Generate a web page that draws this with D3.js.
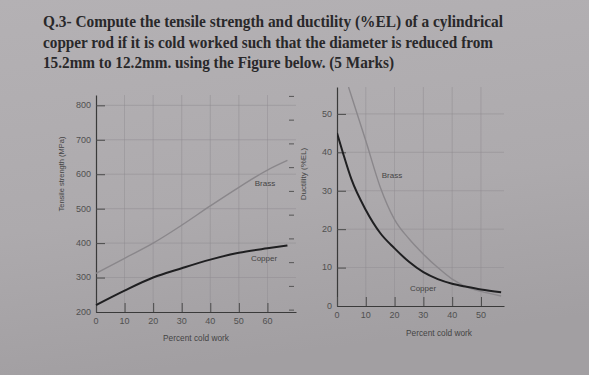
<!DOCTYPE html>
<html>
<head>
<meta charset="utf-8">
<script src="https://cdn.jsdelivr.net/npm/d3@7"></script>
<style>
  html, body { margin: 0; padding: 0; background: #aeabae; }
  svg { display: block; }
  .lbl { font-family: "Liberation Sans", Arial, sans-serif; font-size: 8px; fill: #444; }
  .num { font-family: "Liberation Sans", Arial, sans-serif; font-size: 9px; fill: #505050; }
</style>
</head>
<body>
<div id="chart"></div>
<script>
// question text
const titleLines = [
  "Q.3- Compute the tensile strength and ductility  (%EL) of a cylindrical",
  "copper rod if it is cold worked such that the diameter is reduced from",
  "15.2mm to 12.2mm. using the Figure below. (5 Marks)"
];

// tensile strength vs percent cold work (MPa)
const cwStrength = [0, 10, 20, 30, 40, 50, 60, 67];
const copperTS = [220, 262, 300, 327, 352, 372, 385, 393];
const brassTS = [312, 356, 400, 452, 508, 562, 612, 640];
const tsTicks = [200, 300, 400, 500, 600, 700, 800];
const ksiTicks = [30, 40, 50, 60, 70, 80, 90, 100, 110, 120];
const cwTicksLeft = [0, 10, 20, 30, 40, 50, 60];

// ductility vs percent cold work (%EL)
const cwCopperEL = [0, 2, 5, 10, 15, 20, 25, 30, 35, 40, 45, 50, 57];
const copperEL = [45, 40, 33, 25, 19, 15, 11.5, 8.8, 7, 5.8, 5, 4.3, 3.6];
const cwBrassEL = [4, 10, 15, 20, 25, 30, 35, 40, 45, 50, 57];
const brassEL = [57, 43, 31, 22.5, 17.5, 13.5, 10, 7, 5, 3.8, 2.6];
const elTicks = [0, 10, 20, 30, 40, 50];
const cwTicksRight = [0, 10, 20, 30, 40, 50];

const W = 589, H = 375;
const svg = d3.select('#chart').append('svg')
  .attr('width', W).attr('height', H);

// paper background, a bit darker toward the bottom like the photo
const grad = svg.append('defs').append('linearGradient')
  .attr('id', 'paper').attr('x1', 0).attr('y1', 0).attr('x2', 0.2).attr('y2', 1);
grad.append('stop').attr('offset', '0%').attr('stop-color', '#b4b1b4');
grad.append('stop').attr('offset', '60%').attr('stop-color', '#adaaad');
grad.append('stop').attr('offset', '100%').attr('stop-color', '#a29fa2');
svg.append('rect').attr('width', W).attr('height', H).attr('fill', 'url(#paper)');

// title
const title = svg.append('g');
const titleEnds = [503, 493, 394];
titleLines.forEach((t, i) => {
  title.append('text')
    .attr('x', 43)
    .attr('y', 27 + i * 20.5)
    .attr('textLength', titleEnds[i] - 43)
    .attr('lengthAdjust', 'spacingAndGlyphs')
    .style('font-family', '"Liberation Serif", "Times New Roman", serif')
    .style('font-weight', 'bold')
    .style('font-size', '17px')
    .style('fill', '#29282a')
    .text(t);
});

const gridColor = '#8f8c90';

function styleAxis(g) {
  g.selectAll('.domain').attr('stroke', '#3a3a3a').attr('stroke-width', 1.2);
  g.selectAll('.tick line').attr('stroke', '#4a4a4a').attr('stroke-width', 1);
}

// ---------- left chart: tensile strength ----------
const xL = d3.scaleLinear().domain([0, 70]).range([96, 296]);
const yL = d3.scaleLinear().domain([200, 830]).range([312, 95]);

const left = svg.append('g');

left.append('g').selectAll('line').data(tsTicks.slice(1))
  .join('line')
  .attr('x1', xL(0)).attr('x2', xL(70))
  .attr('y1', d => yL(d)).attr('y2', d => yL(d))
  .attr('stroke', gridColor).attr('stroke-width', 0.8).attr('opacity', 0.6);
left.append('g').selectAll('line').data(cwTicksLeft.slice(1))
  .join('line')
  .attr('x1', d => xL(d)).attr('x2', d => xL(d))
  .attr('y1', yL(200)).attr('y2', yL(830))
  .attr('stroke', gridColor).attr('stroke-width', 0.8).attr('opacity', 0.6);

const yAxisL = left.append('g')
  .attr('transform', `translate(${xL(0)},0)`)
  .call(d3.axisRight(yL).tickValues(tsTicks).tickSize(9).tickSizeOuter(0).tickFormat(''));
yAxisL.append('g').selectAll('text').data(tsTicks)
  .join('text')
  .attr('x', -5).attr('y', d => yL(d)).attr('dy', '0.32em')
  .attr('text-anchor', 'end')
  .attr('class', 'num')
  .text(d => d);
styleAxis(yAxisL);

// secondary ksi ticks on the right edge (labels cut off in the figure)
const ksiScale = d3.scaleLinear()
  .domain([200 / 6.895, 830 / 6.895]).range([312, 95]);
const ksiAxis = left.append('g')
  .attr('transform', `translate(${xL(70) - 2},0)`)
  .call(d3.axisLeft(ksiScale).tickValues(ksiTicks).tickSize(5).tickFormat(''));
ksiAxis.select('.domain').remove();
ksiAxis.selectAll('.tick line').attr('stroke', '#555').attr('stroke-width', 1);

const xAxisL = left.append('g')
  .attr('transform', `translate(0,${yL(200)})`)
  .call(d3.axisTop(xL).tickValues(cwTicksLeft).tickSize(9).tickSizeOuter(0).tickFormat(''));
xAxisL.append('g').selectAll('text').data(cwTicksLeft)
  .join('text')
  .attr('x', d => xL(d)).attr('y', 12)
  .attr('text-anchor', 'middle')
  .attr('class', 'num')
  .text(d => d);
styleAxis(xAxisL);

const lineL = d3.line().curve(d3.curveMonotoneX);
left.append('path')
  .attr('d', lineL(cwStrength.map((c, i) => [xL(c), yL(brassTS[i])])))
  .attr('fill', 'none').attr('stroke', '#8a878b').attr('stroke-width', 1.4);
left.append('path')
  .attr('d', lineL(cwStrength.map((c, i) => [xL(c), yL(copperTS[i])])))
  .attr('fill', 'none').attr('stroke', '#1f1f21').attr('stroke-width', 2);

left.append('text').attr('class', 'lbl')
  .attr('x', 265).attr('y', 186).attr('text-anchor', 'middle').text('Brass');
left.append('text').attr('class', 'lbl')
  .attr('x', 264).attr('y', 261).attr('text-anchor', 'middle').text('Copper');
left.append('text').attr('class', 'lbl')
  .attr('x', 196).attr('y', 341).attr('text-anchor', 'middle').style('font-size', '8.3px')
  .text('Percent cold work');
left.append('text').attr('class', 'lbl')
  .attr('transform', 'translate(64,174) rotate(-90)')
  .attr('text-anchor', 'middle').style('font-size', '7.5px')
  .text('Tensile strength (MPa)');

// ---------- right chart: ductility ----------
const xR = d3.scaleLinear().domain([0, 58]).range([337, 504]);
const yR = d3.scaleLinear().domain([0, 57]).range([306, 87]);

const right = svg.append('g');
const clip = right.append('clipPath').attr('id', 'clipR');
clip.append('rect')
  .attr('x', xR(0)).attr('y', yR(57))
  .attr('width', xR(58) - xR(0)).attr('height', yR(0) - yR(57));

right.append('g').selectAll('line').data(elTicks.slice(1))
  .join('line')
  .attr('x1', xR(0)).attr('x2', xR(58))
  .attr('y1', d => yR(d)).attr('y2', d => yR(d))
  .attr('stroke', gridColor).attr('stroke-width', 0.8).attr('opacity', 0.6);
right.append('g').selectAll('line').data(cwTicksRight.slice(1))
  .join('line')
  .attr('x1', d => xR(d)).attr('x2', d => xR(d))
  .attr('y1', yR(0)).attr('y2', yR(57))
  .attr('stroke', gridColor).attr('stroke-width', 0.8).attr('opacity', 0.6);

const yAxisR = right.append('g')
  .attr('transform', `translate(${xR(0)},0)`)
  .call(d3.axisRight(yR).tickValues(elTicks).tickSize(9).tickSizeOuter(0).tickFormat(''));
yAxisR.append('g').selectAll('text').data(elTicks)
  .join('text')
  .attr('x', -5).attr('y', d => yR(d)).attr('dy', '0.32em')
  .attr('text-anchor', 'end')
  .attr('class', 'num')
  .text(d => d);
styleAxis(yAxisR);

const xAxisR = right.append('g')
  .attr('transform', `translate(0,${yR(0)})`)
  .call(d3.axisTop(xR).tickValues(cwTicksRight).tickSize(9).tickSizeOuter(0).tickFormat(''));
xAxisR.append('g').selectAll('text').data(cwTicksRight)
  .join('text')
  .attr('x', d => xR(d)).attr('y', 12)
  .attr('text-anchor', 'middle')
  .attr('class', 'num')
  .text(d => d);
styleAxis(xAxisR);

const lineR = d3.line().curve(d3.curveMonotoneX);
right.append('path')
  .attr('clip-path', 'url(#clipR)')
  .attr('d', lineR(cwBrassEL.map((c, i) => [xR(c), yR(brassEL[i])])))
  .attr('fill', 'none').attr('stroke', '#8a878b').attr('stroke-width', 1.4);
right.append('path')
  .attr('clip-path', 'url(#clipR)')
  .attr('d', lineR(cwCopperEL.map((c, i) => [xR(c), yR(copperEL[i])])))
  .attr('fill', 'none').attr('stroke', '#1f1f21').attr('stroke-width', 2);

right.append('text').attr('class', 'lbl')
  .attr('x', 392).attr('y', 178).attr('text-anchor', 'middle').text('Brass');
right.append('text').attr('class', 'lbl')
  .attr('x', 423).attr('y', 291).attr('text-anchor', 'middle').text('Copper');
right.append('text').attr('class', 'lbl')
  .attr('x', 439).attr('y', 336).attr('text-anchor', 'middle').style('font-size', '8.3px')
  .text('Percent cold work');
right.append('text').attr('class', 'lbl')
  .attr('transform', 'translate(306,174) rotate(-90)')
  .attr('text-anchor', 'middle')
  .text('Ductility (%EL)');
</script>
</body>
</html>
